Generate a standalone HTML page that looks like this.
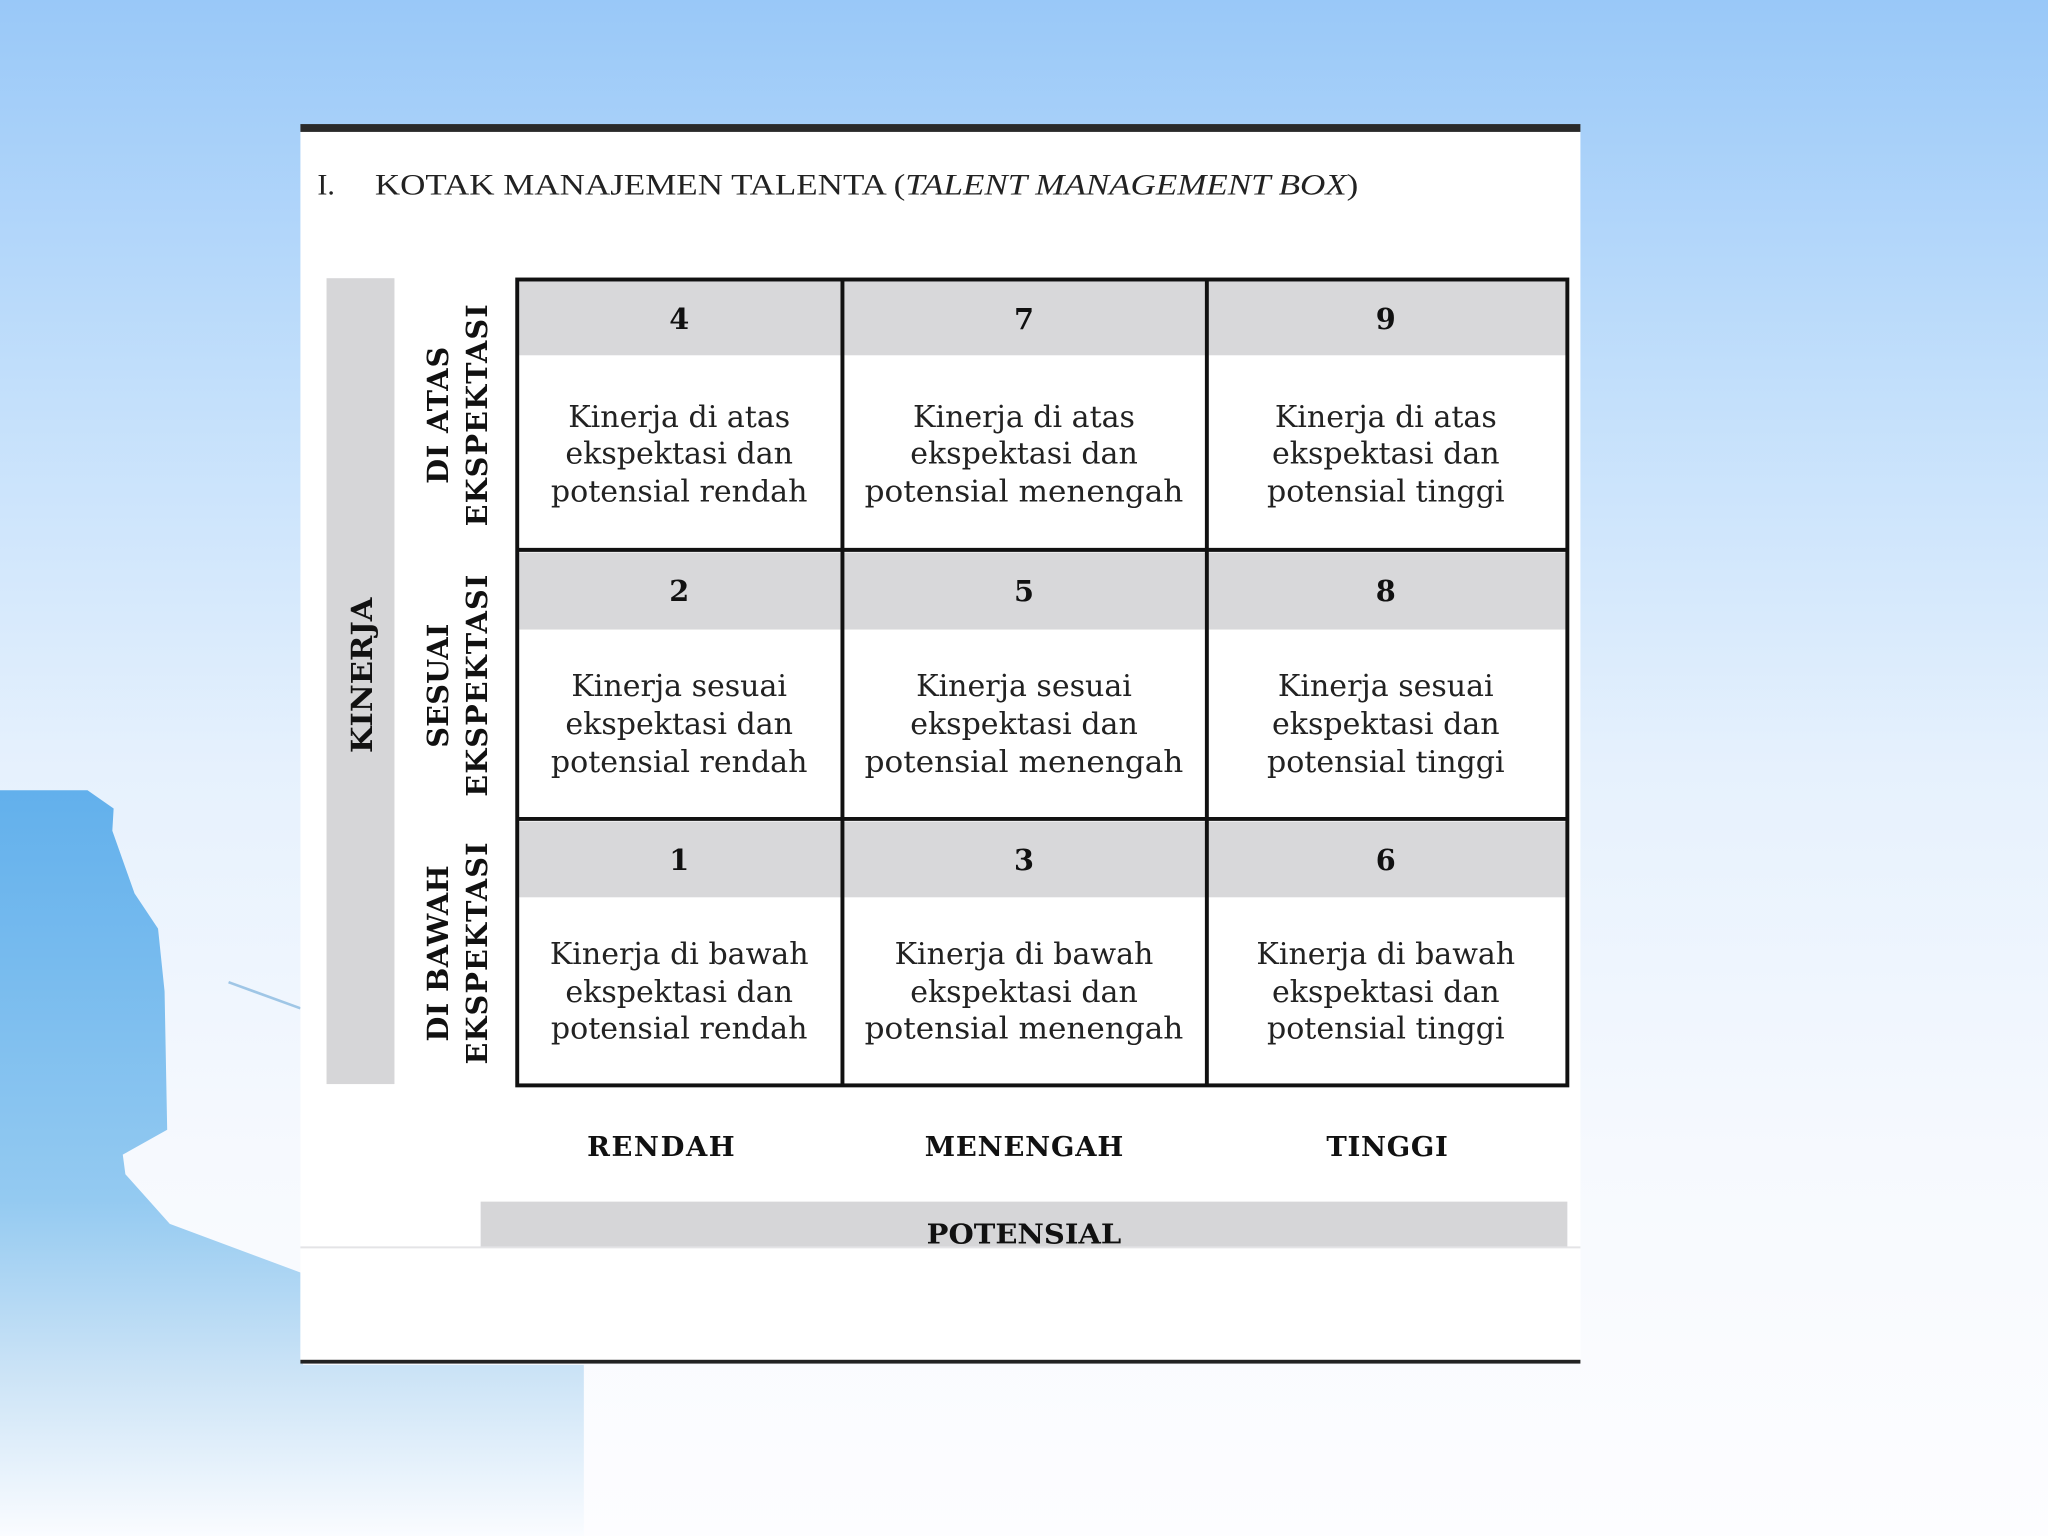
<!DOCTYPE html>
<html><head><meta charset="utf-8"><style>html,body{margin:0;padding:0;width:2048px;height:1536px;overflow:hidden;background:#fff}</style></head>
<body>
<svg width="2048" height="1536" viewBox="0 0 1568 1176" xmlns="http://www.w3.org/2000/svg">
<defs>
<linearGradient id="bg" x1="0" y1="0" x2="0" y2="1">
<stop offset="0" stop-color="#99c8f8"/>
<stop offset="0.25" stop-color="#c2dffb"/>
<stop offset="0.5" stop-color="#e6f1fd"/>
<stop offset="0.75" stop-color="#f6f9fe"/>
<stop offset="1" stop-color="#fdfdff"/>
</linearGradient>
<linearGradient id="sh" x1="0" y1="605" x2="0" y2="1176" gradientUnits="userSpaceOnUse">
<stop offset="0" stop-color="#62b0ec"/>
<stop offset="0.55" stop-color="#94caf1"/>
<stop offset="0.78" stop-color="#cbe3f6"/>
<stop offset="1" stop-color="#fafcff"/>
</linearGradient>
</defs>
<rect width="1568" height="1176" fill="url(#bg)"/>
<polygon points="0,605 67,605 87,619 86,636 103,684 121,711 126,759 128,865 94,884 96,899 130,937 232,975 232,1045 447,1045 447,1176 0,1176" fill="url(#sh)"/>
<line x1="175" y1="752" x2="230" y2="772" stroke="#9fc6e6" stroke-width="2"/>
<!-- panel -->
<rect x="230" y="96" width="980" height="948" fill="#fff"/>
<rect x="230" y="95" width="980" height="6" fill="#2a2a2a"/>
<rect x="230" y="1041" width="980" height="3" fill="#222"/>
<text x="243" y="149" font-family="Liberation Serif, serif" font-size="23" fill="#222">I.</text>
<text x="287" y="149" font-family="Liberation Serif, serif" font-size="23" fill="#222" textLength="753" lengthAdjust="spacingAndGlyphs">KOTAK MANAJEMEN TALENTA (<tspan font-style="italic">TALENT MANAGEMENT BOX</tspan>)</text>
<!-- KINERJA bar -->
<rect x="250" y="213" width="52" height="617" fill="#d6d6d8"/>
<text transform="translate(285,517) rotate(-90)" text-anchor="middle" font-family="DejaVu Serif, serif" font-weight="bold" font-size="22" fill="#111" textLength="119" lengthAdjust="spacingAndGlyphs">KINERJA</text>
<!-- row labels -->
<g font-family="DejaVu Serif, serif" font-weight="bold" font-size="22" fill="#111" text-anchor="middle" lengthAdjust="spacingAndGlyphs">
<text transform="translate(343,318) rotate(-90)" textLength="105">DI ATAS</text>
<text transform="translate(373,318) rotate(-90)" textLength="170">EKSPEKTASI</text>
<text transform="translate(343,525) rotate(-90)" textLength="95">SESUAI</text>
<text transform="translate(373,525) rotate(-90)" textLength="170">EKSPEKTASI</text>
<text transform="translate(343,730) rotate(-90)" textLength="135">DI BAWAH</text>
<text transform="translate(373,730) rotate(-90)" textLength="170">EKSPEKTASI</text>
</g>
<!-- grid -->
<rect x="396" y="214" width="804" height="617" fill="#fff"/>
<g fill="#d8d8da">
<rect x="396" y="215" width="804" height="57"/>
<rect x="396" y="423" width="804" height="59"/>
<rect x="396" y="629" width="804" height="58"/>
</g>
<g stroke="#111" stroke-width="3" fill="none">
<rect x="396" y="214" width="804" height="617"/>
<line x1="645" y1="214" x2="645" y2="831"/>
<line x1="924" y1="214" x2="924" y2="831"/>
<line x1="396" y1="421" x2="1200" y2="421"/>
<line x1="396" y1="627" x2="1200" y2="627"/>
</g>
<g font-family="DejaVu Serif, serif" font-weight="bold" font-size="22" fill="#111" text-anchor="middle">
<text x="520" y="252">4</text><text x="784" y="252">7</text><text x="1061" y="252">9</text>
<text x="520" y="460">2</text><text x="784" y="460">5</text><text x="1061" y="460">8</text>
<text x="520" y="666">1</text><text x="784" y="666">3</text><text x="1061" y="666">6</text>
</g>
<g font-family="DejaVu Serif, serif" font-size="23" fill="#222" text-anchor="middle">
<text x="520" y="327">Kinerja di atas</text><text x="520" y="355">ekspektasi dan</text><text x="520" y="384">potensial rendah</text>
<text x="784" y="327">Kinerja di atas</text><text x="784" y="355">ekspektasi dan</text><text x="784" y="384" textLength="244" lengthAdjust="spacingAndGlyphs">potensial menengah</text>
<text x="1061" y="327">Kinerja di atas</text><text x="1061" y="355">ekspektasi dan</text><text x="1061" y="384">potensial tinggi</text>
<text x="520" y="533">Kinerja sesuai</text><text x="520" y="562">ekspektasi dan</text><text x="520" y="591">potensial rendah</text>
<text x="784" y="533">Kinerja sesuai</text><text x="784" y="562">ekspektasi dan</text><text x="784" y="591" textLength="244" lengthAdjust="spacingAndGlyphs">potensial menengah</text>
<text x="1061" y="533">Kinerja sesuai</text><text x="1061" y="562">ekspektasi dan</text><text x="1061" y="591">potensial tinggi</text>
<text x="520" y="738">Kinerja di bawah</text><text x="520" y="767">ekspektasi dan</text><text x="520" y="795">potensial rendah</text>
<text x="784" y="738">Kinerja di bawah</text><text x="784" y="767">ekspektasi dan</text><text x="784" y="795" textLength="244" lengthAdjust="spacingAndGlyphs">potensial menengah</text>
<text x="1061" y="738">Kinerja di bawah</text><text x="1061" y="767">ekspektasi dan</text><text x="1061" y="795">potensial tinggi</text>
</g>
<g font-family="DejaVu Serif, serif" font-weight="bold" font-size="21" fill="#111" text-anchor="middle" lengthAdjust="spacingAndGlyphs">
<text x="506" y="885" textLength="113">RENDAH</text>
<text x="784" y="885" textLength="152">MENENGAH</text>
<text x="1062" y="885" textLength="93">TINGGI</text>
</g>
<rect x="368" y="920" width="832" height="36" fill="#d6d6d8"/>
<text x="784" y="952" text-anchor="middle" font-family="DejaVu Serif, serif" font-weight="bold" font-size="21" fill="#111" textLength="149" lengthAdjust="spacingAndGlyphs">POTENSIAL</text>
<rect x="230" y="955" width="980" height="86" fill="#fff"/>
<line x1="230" y1="955" x2="1210" y2="955" stroke="#e4e4e6" stroke-width="1.5"/>
</svg>
</body></html>
